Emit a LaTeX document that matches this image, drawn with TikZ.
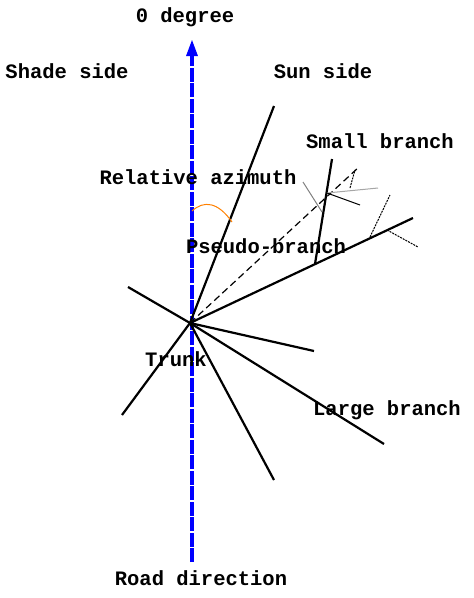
\documentclass[tikz,border=0pt]{standalone}
\usepackage{fontspec}
\setmonofont{Liberation Mono}
\usetikzlibrary{arrows.meta}
\begin{document}
\begin{tikzpicture}[x=1pt,y=-1pt,
	lbl/.style={font=\ttfamily\bfseries\fontsize{20.5}{22}\selectfont, inner sep=0pt},
	branch/.style={line width=2.2pt},
	twig/.style={line width=1pt},
	road/.style={draw=blue, line width=4pt, dash pattern=on 14pt off 1.5pt}]
	\useasboundingbox (0,0) rectangle (474,598);
	% trunk and branch ends
	\coordinate (T) at (190,323);
	\coordinate (b1) at (274,106);
	\coordinate (b2) at (413,218);
	\coordinate (pb) at (359,167);
	\coordinate (b3) at (128,287);
	\coordinate (b4) at (314,351);
	\coordinate (b5) at (384,444);
	\coordinate (b6) at (274,480);
	\coordinate (b7) at (122,415);
	\coordinate (sb0) at (315,264);
	\coordinate (sb1) at (332,159);
	\coordinate (sj) at (327,193);
	% road axis
	\coordinate (rd0) at (192,562);
	\coordinate (rd1) at (192,52);
	\coordinate (tip) at (192,40);
	\draw[road] (rd0) -- (rd1);
	\fill[blue] (tip) -- (186,56) -- (198,56) -- cycle;
	% branches
	\foreach \e in {b1,b2,b3,b4,b5,b6,b7}
		\draw[branch] (T) -- (\e);
	\draw[line width=1.2pt, dash pattern=on 7pt off 4pt] (T) -- (pb);
	\draw[branch] (sb0) -- (sb1);
	% twigs
	\draw[twig, gray] (303,182) -- (322,212);
	\draw[twig, gray!70] (sj) -- (378,188);
	\draw[twig] (sj) -- (360,205);
	\draw[twig, dash pattern=on 2pt off 1pt] (350,188) -- (355,170);
	\draw[twig, dash pattern=on 2pt off 1pt] (370,237) -- (390,195);
	\draw[twig, dash pattern=on 2pt off 1pt] (387,230) -- (418,247);
	% azimuth arc
	\draw[orange, line width=1pt] (192,211) .. controls (204,200) and (218,202) .. (232,222);
	% labels
	\node[lbl] (deg) at (185,17) {0 degree};
	\node[lbl] (shade) at (67,71) {Shade side};
	\node[lbl] (sun) at (323,71) {Sun side};
	\node[lbl] (small) at (380,141) {Small branch};
	\node[lbl] (azi) at (198,177) {Relative azimuth};
	\node[lbl] (pseudo) at (266,246) {Pseudo-branch};
	\node[lbl] (trunk) at (176,359) {Trunk};
	\node[lbl] (large) at (387,410) {Large branch};
	\node[lbl] (road) at (201,578) {Road direction};
\end{tikzpicture}
\end{document}
